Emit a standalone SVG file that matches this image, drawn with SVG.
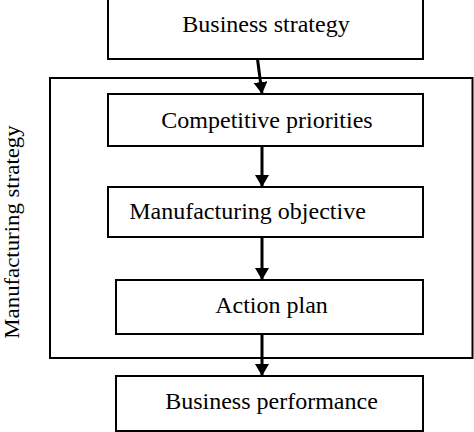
<svg xmlns="http://www.w3.org/2000/svg" width="474" height="432" viewBox="0 0 474 432">
<style>
.box{fill:#fff;stroke:#000;stroke-width:2}
.frame{fill:none;stroke:#000;stroke-width:2}
.lbl{font-family:"Liberation Serif","Times New Roman",serif;font-size:24px;fill:#000;text-anchor:middle}
.side{font-size:20px}
.conn{stroke:#000;stroke-width:3;fill:none;marker-end:url(#ah)}
</style>
<defs>
<marker id="ah" viewBox="0 0 12 14" refX="12" refY="7" markerWidth="12" markerHeight="14" markerUnits="userSpaceOnUse" orient="auto">
<path d="M0,0 L12,7 L0,14 Z" fill="#000"/>
</marker>
</defs>
<rect width="474" height="432" fill="#fff"/>
<g id="manufacturing-strategy">
<rect class="frame" x="50" y="78" width="422.5" height="280"/>
<text class="lbl side" transform="translate(18.5,232) rotate(-90) scale(1.14,1)">Manufacturing strategy</text>
</g>
<g id="business-strategy">
<rect class="box" x="108" y="-1" width="315" height="60"/>
<text class="lbl" x="266" y="32">Business strategy</text>
</g>
<g id="competitive-priorities">
<rect class="box" x="108" y="94" width="315" height="52"/>
<text class="lbl" x="267" y="128">Competitive priorities</text>
</g>
<g id="manufacturing-objective">
<rect class="box" x="108" y="187" width="315" height="50"/>
<text class="lbl" x="247.5" y="219">Manufacturing objective</text>
</g>
<g id="action-plan">
<rect class="box" x="116" y="280" width="307" height="54"/>
<text class="lbl" x="271.5" y="313">Action plan</text>
</g>
<g id="business-performance">
<rect class="box" x="116" y="376" width="307" height="55"/>
<text class="lbl" x="271.5" y="409">Business performance</text>
</g>
<g id="connectors">
<line class="conn" x1="257.5" y1="59" x2="262" y2="94"/>
<line class="conn" x1="262" y1="146" x2="262" y2="187"/>
<line class="conn" x1="262" y1="237" x2="262" y2="280"/>
<line class="conn" x1="262" y1="334" x2="262" y2="376"/>
</g>
</svg>
